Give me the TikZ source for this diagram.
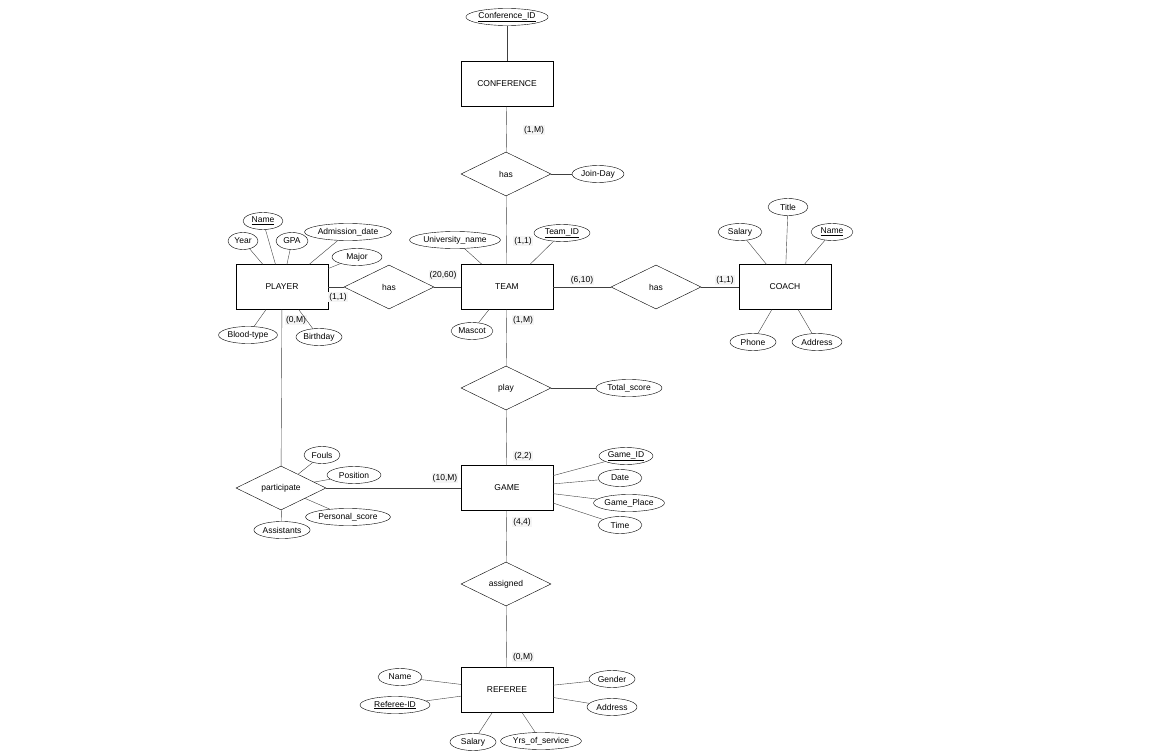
\documentclass[tikz,border=0pt]{standalone}
\usepackage{fontspec}
\setmainfont{Liberation Sans}
\usetikzlibrary{shapes.geometric}
\begin{document}
\begin{tikzpicture}[x=1pt,y=-1pt,
  every node/.style={font=\fontsize{8.5}{10}\selectfont},
  ent/.style={draw,minimum width=92pt,minimum height=45pt,inner sep=0pt},
  rel/.style={draw,diamond,aspect=2.05,minimum width=90pt,minimum height=44pt,inner sep=0pt},
  att/.style={draw,ellipse,minimum height=17pt,inner sep=0.5pt},
  card/.style={fill=black!4,inner sep=1pt},
  ln/.style={draw=black!75}]
\useasboundingbox (0,0) rectangle (1152,752);
% entities
\node[ent] (conf) at (507,84) {CONFERENCE};
\node[ent] (team) at (507,287) {TEAM};
\node[ent] (player) at (282,287) {PLAYER};
\node[ent] (coach) at (785,287) {COACH};
\node[ent] (game) at (507,488) {GAME};
\node[ent] (ref) at (507,690) {REFEREE};
% relationships
\node[rel] (hasC) at (506,174) {has};
\node[rel] (hasP) at (389,287) {has};
\node[rel] (hasCo) at (656,287) {has};
\node[rel] (play) at (506,388) {play};
\node[rel] (part) at (281,488) {participate};
\node[rel] (asg) at (506,584) {assigned};
% attributes
\node[att,minimum width=78pt] (confid) at (507,17) {\underline{Conference\_ID}};
\node[att,minimum width=52pt] (join) at (598,174) {Join-Day};
\node[att,minimum width=56pt] (teamid) at (562,233) {\underline{Team\_ID}};
\node[att,minimum width=84pt] (uni) at (455,240) {University\_name};
\node[att,minimum width=42pt] (mascot) at (472,331) {Mascot};
\node[att,minimum width=40pt] (pname) at (263,221) {\underline{Name}};
\node[att,minimum width=30pt] (year) at (243,241) {Year};
\node[att,minimum width=32pt] (gpa) at (292,241) {GPA};
\node[att,minimum width=76pt] (adm) at (348,232) {Admission\_date};
\node[att,minimum width=50pt] (major) at (357,257) {Major};
\node[att,minimum width=58pt] (blood) at (248,335) {Blood-type};
\node[att,minimum width=46pt] (bday) at (319,337) {Birthday};
\node[att,minimum width=44pt] (csal) at (740,232) {Salary};
\node[att,minimum width=40pt] (title) at (788,207) {Title};
\node[att,minimum width=42pt] (cname) at (832,232) {\underline{Name}};
\node[att,minimum width=46pt] (phone) at (753,342) {Phone};
\node[att,minimum width=50pt] (caddr) at (817,342) {Address};
\node[att,minimum width=66pt] (tscore) at (629,388) {Total\_score};
\node[att,minimum width=36pt] (fouls) at (322,455) {Fouls};
\node[att,minimum width=54pt] (pos) at (354,475) {Position};
\node[att,minimum width=76pt] (pscore) at (348,517) {Personal\_score};
\node[att,minimum width=56pt] (assist) at (282,530) {Assistants};
\node[att,minimum width=54pt] (gid) at (626,456) {\underline{Game\_ID}};
\node[att,minimum width=44pt] (date) at (620,478) {Date};
\node[att,minimum width=70pt] (gplace) at (629,503) {Game\_Place};
\node[att,minimum width=44pt] (time) at (620,525) {Time};
\node[att,minimum width=44pt] (rname) at (400,677) {Name};
\node[att,minimum width=70pt] (rid) at (395,705) {\underline{Referee-ID}};
\node[att,minimum width=46pt] (gender) at (612,679) {Gender};
\node[att,minimum width=50pt] (raddr) at (612,707) {Address};
\node[att,minimum width=46pt] (rsal) at (473,742) {Salary};
\node[att,minimum width=72pt] (yrs) at (541,741) {Yrs\_of\_service};
% cardinalities
\node[card] at (534,130) {(1,M)};
\node[card] at (523,241) {(1,1)};
\node[card] at (443,275) {(20,60)};
\node[card] at (582,280) {(6,10)};
\node[card] at (523,320) {(1,M)};
\node[card] at (338,297) {(1,1)};
\node[card] at (296,320) {(0,M)};
\node[card] at (725,280) {(1,1)};
\node[card] at (523,456) {(2,2)};
\node[card] at (445,478) {(10,M)};
\node[card] at (522,522) {(4,4)};
\node[card] at (523,657) {(0,M)};
% connectors
\path[ln] (confid) -- (conf);
\path[ln] (conf) -- (hasC);
\path[ln] (hasC) -- (team);
\path[ln] (hasC) -- (join);
\path[ln] (player) -- (hasP);
\path[ln] (hasP) -- (team);
\path[ln] (team) -- (hasCo);
\path[ln] (hasCo) -- (coach);
\path[ln] (team) -- (play);
\path[ln] (play) -- (game);
\path[ln] (play) -- (tscore);
\path[ln] (game) -- (asg);
\path[ln] (asg) -- (ref);
\path[ln] (player) -- (part);
\path[ln] (part) -- (game);
\path[ln] (teamid) -- (team);
\path[ln] (uni) -- (team);
\path[ln] (mascot) -- (team);
\path[ln] (pname) -- (player);
\path[ln] (year) -- (player);
\path[ln] (gpa) -- (player);
\path[ln] (adm) -- (player);
\path[ln] (major) -- (player);
\path[ln] (blood) -- (player);
\path[ln] (bday) -- (player);
\path[ln] (csal) -- (coach);
\path[ln] (title) -- (coach);
\path[ln] (cname) -- (coach);
\path[ln] (phone) -- (coach);
\path[ln] (caddr) -- (coach);
\path[ln] (fouls) -- (part);
\path[ln] (pos) -- (part);
\path[ln] (pscore) -- (part);
\path[ln] (assist) -- (part);
\path[ln] (gid) -- (game);
\path[ln] (date) -- (game);
\path[ln] (gplace) -- (game);
\path[ln] (time) -- (game);
\path[ln] (rname) -- (ref);
\path[ln] (rid) -- (ref);
\path[ln] (gender) -- (ref);
\path[ln] (raddr) -- (ref);
\path[ln] (rsal) -- (ref);
\path[ln] (yrs) -- (ref);
\end{tikzpicture}
\end{document}
